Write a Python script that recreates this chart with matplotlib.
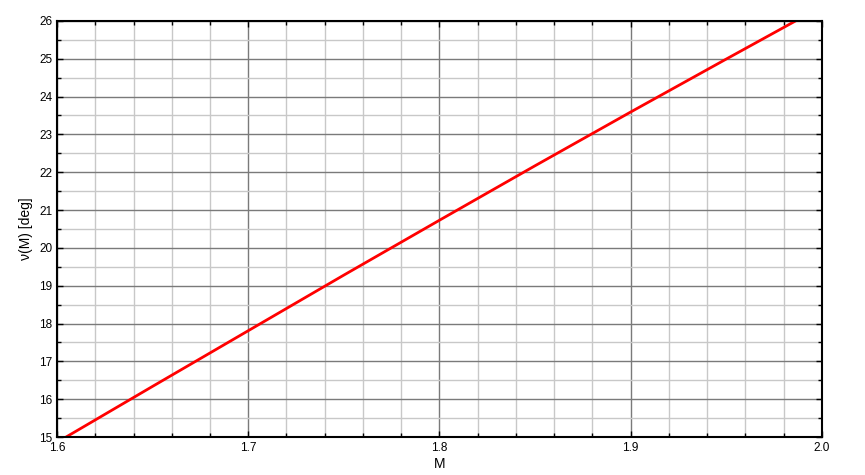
import numpy as np
import matplotlib.pyplot as plt
from matplotlib.ticker import MultipleLocator

plt.rcParams['font.family'] = ['Liberation Sans', 'DejaVu Sans']
plt.rcParams['font.size'] = 8.5

# Prandtl-Meyer angle
mach = np.array([1.6, 1.65, 1.7, 1.75, 1.8, 1.85, 1.9, 1.95, 2.0])
nu_deg = np.array([14.86, 16.34, 17.81, 19.28, 20.73, 22.17, 23.59, 24.99, 26.38])

fig = plt.figure(figsize=(8.65, 4.75), dpi=100)
ax = fig.add_axes([0.066, 0.08, 0.884, 0.876])

ax.plot(mach, nu_deg, color='red', lw=2)

ax.set_xlim(1.6, 2.0)
ax.set_ylim(15, 26)
ax.xaxis.set_major_locator(MultipleLocator(0.1))
ax.xaxis.set_minor_locator(MultipleLocator(0.02))
ax.yaxis.set_major_locator(MultipleLocator(1))
ax.yaxis.set_minor_locator(MultipleLocator(0.5))

ax.grid(which='major', color='#7a7a7a', lw=1)
ax.grid(which='minor', color='#c8c8c8', lw=1)
ax.set_axisbelow(True)

ax.tick_params(which='both', direction='in', top=True, right=True, length=4, width=1)
ax.tick_params(which='minor', length=3)
for s in ax.spines.values():
    s.set_linewidth(1.5)

ax.set_xlabel('M', fontsize=10, labelpad=2)
ax.set_ylabel('ν(M) [deg]', fontsize=10, labelpad=4)

fig.savefig('out.png', dpi=100)
